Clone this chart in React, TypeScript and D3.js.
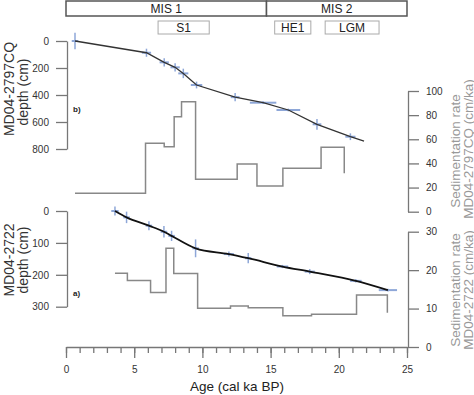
import React, { useEffect, useRef } from "react";
import * as d3 from "d3";

// MIS stages and events (ka)
const misStages = [
  { label: "MIS 1", from: 0, to: 14.7 },
  { label: "MIS 2", from: 14.7, to: 25 },
];
const events = [
  { label: "S1", from: 6.75, to: 10.5 },
  { label: "HE1", from: 15.3, to: 17.95 },
  { label: "LGM", from: 19, to: 22.95 },
];

// MD04-2797CQ age model: age (ka), depth (cm), age err, depth err
const ageB = [0.66, 5.9, 7.2, 8.0, 8.6, 9.57, 12.4, 14.45, 16.3, 18.4, 20.85, 21.85];
const depthB = [0, 87, 158, 195, 240, 326, 416, 457, 511, 617, 709, 741];
const ageErrB = [0.02, 0.12, 0.12, 0.12, 0.15, 0.2, 0.1, 0.75, 0.65, 0.1, 0.15, 0];
const depthErrB = [62, 30, 30, 30, 35, 25, 30, 10, 10, 40, 25, 0];

// MD04-2797CQ sedimentation rate (cm/ka), step starts
const rateAgeB = [0.66, 5.83, 7.2, 7.93, 8.47, 9.5, 12.55, 14.0, 15.9, 18.7, 20.4];
const rateB = [15.2, 56.7, 53.8, 78.7, 91, 26.8, 39.5, 21.3, 36, 53.3, 31.8];

// MD04-2722 age model
const ageA = [3.59, 4.44, 6.08, 7.18, 7.74, 9.5, 11.94, 13.36, 15.87, 17.87, 21.25, 23.6];
const depthA = [0, 20, 46, 65, 78, 117, 135, 148, 174, 190, 219, 248];
const ageErrA = [0.05, 0.02, 0.02, 0.02, 0.02, 0.02, 0.15, 0.02, 0.2, 0.15, 0.2, 0.45];
const depthErrA = [14, 18, 14, 18, 16, 28, 8, 16, 5, 8, 5, 4];

// MD04-2722 sedimentation rate
const rateAgeA = [3.59, 4.5, 6.2, 7.33, 7.9, 9.65, 12.06, 13.36, 15.9, 18.0, 21.3, 23.56];
const rateA = [19.2, 17.3, 14.2, 25.7, 19.1, 10.1, 10.7, 10.2, 8.15, 8.5, 13.5, 8.9];

const xTicks = [0, 5, 10, 15, 20, 25];

const font = "Liberation Sans, Arial, Helvetica, sans-serif";

const App = () => {
  const ref = useRef<SVGSVGElement>(null);

  useEffect(() => {
    const width = 474;
    const height = 395;
    const svg = d3.select(ref.current);
    svg.selectAll("*").remove();
    svg.attr("width", width).attr("height", height).attr("font-family", font);

    const x = d3.scaleLinear().domain([0, 25]).range([66, 407]);
    const yB = d3.scaleLinear().domain([0, 800]).range([41, 149]);
    const rB = d3.scaleLinear().domain([0, 100]).range([211.7, 91]);
    const yA = d3.scaleLinear().domain([0, 300]).range([211, 306.7]);
    const rA = d3.scaleLinear().domain([0, 30]).range([347, 231.7]);

    const axisColor = "#777";
    const styleAxis = (g) => {
      g.select(".domain").attr("stroke", axisColor).attr("stroke-width", 1.3);
      g.selectAll(".tick line").attr("stroke", axisColor).attr("stroke-width", 1.3);
      g.selectAll(".tick text").attr("fill", "#333").attr("font-size", 10).attr("font-family", font);
    };

    // top bars
    const top = svg.append("g");
    top
      .selectAll("rect")
      .data(misStages)
      .join("rect")
      .attr("x", (d) => x(d.from))
      .attr("width", (d) => x(d.to) - x(d.from))
      .attr("y", 1)
      .attr("height", 15)
      .attr("fill", "white")
      .attr("stroke", "#555")
      .attr("stroke-width", 1.5);
    top
      .selectAll("text")
      .data(misStages)
      .join("text")
      .attr("x", (d) => (x(d.from) + x(d.to)) / 2)
      .attr("y", 13)
      .attr("text-anchor", "middle")
      .attr("font-size", 12)
      .attr("fill", "#222")
      .text((d) => d.label);

    const ev = svg.append("g");
    ev.selectAll("rect")
      .data(events)
      .join("rect")
      .attr("x", (d) => x(d.from))
      .attr("width", (d) => x(d.to) - x(d.from))
      .attr("y", 21)
      .attr("height", 13)
      .attr("fill", "white")
      .attr("stroke", "#aaa")
      .attr("stroke-width", 1);
    ev.selectAll("text")
      .data(events)
      .join("text")
      .attr("x", (d) => (x(d.from) + x(d.to)) / 2)
      .attr("y", 32)
      .attr("text-anchor", "middle")
      .attr("font-size", 12)
      .attr("fill", "#222")
      .text((d) => d.label);

    // axes
    svg.append("g")
      .attr("transform", "translate(67,0)")
      .call(d3.axisLeft(yB).tickValues([0, 200, 400, 600, 800]).tickSize(11).tickSizeOuter(0).tickPadding(7))
      .call(styleAxis);
    svg.append("g")
      .attr("transform", "translate(67,0)")
      .call(d3.axisLeft(yA).tickValues([0, 100, 200, 300]).tickSize(11).tickSizeOuter(0).tickPadding(7))
      .call(styleAxis);
    svg.append("g")
      .attr("transform", "translate(408,0)")
      .call(d3.axisRight(rB).tickValues([0, 20, 40, 60, 80, 100]).tickSize(11).tickSizeOuter(0).tickPadding(7))
      .call(styleAxis);
    svg.append("g")
      .attr("transform", "translate(408,0)")
      .call(d3.axisRight(rA).tickValues([0, 10, 20, 30]).tickSize(11).tickSizeOuter(0).tickPadding(7))
      .call(styleAxis);
    svg.append("g")
      .attr("transform", "translate(0,347)")
      .call(d3.axisBottom(x).ticks(25).tickSize(6).tickSizeOuter(0).tickFormat(() => ""))
      .call(styleAxis);
    svg.append("g")
      .attr("transform", "translate(0,347)")
      .call(d3.axisBottom(x).tickValues(xTicks).tickSize(11).tickSizeOuter(0).tickPadding(8))
      .call(styleAxis)
      .call((g) => g.select(".domain").remove());

    // step lines
    const stepLine = (xs, vs, r) =>
      d3
        .line<number>()
        .x((_, i) => x(xs[i]))
        .y((v) => r(v))
        .curve(d3.curveStepAfter)(vs);
    svg.append("path")
      .attr("d", stepLine(rateAgeB, rateB, rB))
      .attr("fill", "none")
      .attr("stroke", "#888")
      .attr("stroke-width", 1.5);
    svg.append("path")
      .attr("d", stepLine(rateAgeA, rateA, rA))
      .attr("fill", "none")
      .attr("stroke", "#888")
      .attr("stroke-width", 1.5);

    // error crosses
    const blue = "#8ea7d8";
    const drawErrors = (ages, depths, aErr, dErr, y) => {
      const g = svg.append("g");
      g.selectAll(".h")
        .data(ages)
        .join("line")
        .attr("x1", (d, i) => x(d - aErr[i]) - 3)
        .attr("x2", (d, i) => x(d + aErr[i]) + 3)
        .attr("y1", (_, i) => y(depths[i]))
        .attr("y2", (_, i) => y(depths[i]))
        .attr("stroke", blue)
        .attr("stroke-width", 2);
      g.selectAll(".v")
        .data(ages)
        .join("line")
        .attr("x1", (d) => x(d))
        .attr("x2", (d) => x(d))
        .attr("y1", (_, i) => y(depths[i] - dErr[i]))
        .attr("y2", (_, i) => y(depths[i] + dErr[i]))
        .attr("stroke", blue)
        .attr("stroke-width", 1.5);
    };
    drawErrors(ageB.slice(0, 11), depthB.slice(0, 11), ageErrB, depthErrB, yB);
    drawErrors(ageA, depthA, ageErrA, depthErrA, yA);

    // age models
    svg.append("path")
      .attr("d", d3.line<number>().x((d) => x(d)).y((_, i) => yB(depthB[i]))(ageB))
      .attr("fill", "none")
      .attr("stroke", "#333")
      .attr("stroke-width", 1.3);
    svg.append("path")
      .attr("d", d3.line<number>().x((d) => x(d)).y((_, i) => yA(depthA[i])).curve(d3.curveMonotoneX)(ageA))
      .attr("fill", "none")
      .attr("stroke", "#111")
      .attr("stroke-width", 1.8);

    // panel labels
    svg.append("text").attr("x", 73).attr("y", 112).attr("font-size", 8).attr("font-weight", "bold").attr("fill", "#222").text("b)");
    svg.append("text").attr("x", 73).attr("y", 296).attr("font-size", 8).attr("font-weight", "bold").attr("fill", "#222").text("a)");

    // axis titles
    const vText = (tx, ty, txt, color, size) =>
      svg.append("text")
        .attr("transform", `translate(${tx},${ty}) rotate(-90)`)
        .attr("text-anchor", "middle")
        .attr("font-size", size)
        .attr("fill", color)
        .text(txt);
    vText(14, 89, "MD04-2797CQ", "#333", 14);
    vText(28, 92, "depth (cm)", "#333", 14);
    vText(14, 260, "MD04-2722", "#333", 14);
    vText(28, 260, "depth (cm)", "#333", 14);
    vText(459.5, 151, "Sedimentation rate", "#999", 13.5);
    vText(472.5, 149, "MD04-2797CQ (cm/ka)", "#999", 13.5);
    vText(459.5, 290, "Sedimentation rate", "#999", 13.5);
    vText(472.5, 290, "MD04-2722 (cm/ka)", "#999", 13.5);

    svg.append("text")
      .attr("x", 237)
      .attr("y", 391)
      .attr("text-anchor", "middle")
      .attr("font-size", 13.5)
      .attr("fill", "#222")
      .text("Age (cal ka BP)");
  }, []);

  return (
    <svg
      ref={ref}
      style={{ position: "absolute", left: 0, top: 0, display: "block", background: "white" }}
    ></svg>
  );
};

export default App;
